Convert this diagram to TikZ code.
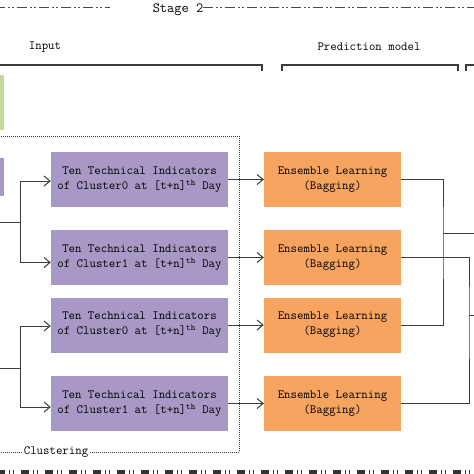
\documentclass[tikz,border=0pt]{standalone}
\usepackage{fontspec}
\usetikzlibrary{arrows.meta}
\definecolor{purp}{RGB}{168,152,198}
\definecolor{oran}{RGB}{246,164,96}
\definecolor{grn}{RGB}{197,216,155}
\definecolor{linegray}{RGB}{60,60,60}
\begin{document}
\begin{tikzpicture}[x=1pt,y=-1pt,
  txt/.style={font=\fontsize{12.5}{15}\selectfont\ttfamily, text=black},
  pbox/.style={txt, fill=purp, minimum width=177pt, minimum height=55pt, inner sep=0pt, align=center},
  obox/.style={txt, fill=oran, minimum width=137pt, minimum height=55pt, inner sep=0pt, align=center},
  conn/.style={draw=linegray, line width=1pt},
  arr/.style={conn, -{Straight Barb[length=6pt,width=10pt]}},
  brk/.style={draw=linegray, line width=1.2pt},
  stageline/.style={draw=black!70, line width=0.9pt, dash pattern=on 10pt off 3pt on 1.5pt off 2.5pt on 1.5pt off 3.5pt},
  botline/.style={draw=black!80, line width=3.5pt, dash pattern=on 8pt off 4pt on 1.2pt off 3pt on 1.2pt off 6.6pt},
  dotline/.style={draw=black!80, line width=1pt, dash pattern=on 1pt off 1pt}]

\useasboundingbox (0,0) rectangle (474,474);
\clip (0,0) rectangle (474,474);

% top stage line
\node[txt, font=\fontsize{14}{16}\selectfont\ttfamily, inner sep=0pt, anchor=base] (st) at (178,12) {Stage 2};
\coordinate (sl0) at (-5,7);
\coordinate (sl1) at (110,7);
\coordinate (sl2) at (480,7);
\draw[stageline] (sl0) -- (sl1);
\draw[stageline] (st.east |- sl2) -- (sl2);

% headings and brackets
\node[txt] (inp) at (45,47) {Input};
\node[txt] (pm) at (369,47) {Prediction model};
\draw[brk] (-5,65) -- (262,65) -- (262,71);
\draw[brk] (282,71) -- (282,65) -- (458,65) -- (458,71);
\draw[brk] (466,71) -- (466,65) -- (480,65);

% partial boxes at left edge
\node[fill=grn, minimum width=40pt, minimum height=55pt, inner sep=0pt, anchor=north east] (g) at (4,75) {};
\node[fill=purp, minimum width=40pt, minimum height=38pt, inner sep=0pt, anchor=north east] (pl) at (4,158) {};

% clustering frame
\node[txt, inner sep=2pt] (cl) at (56,452) {Clustering};
\coordinate (f0) at (-5,136);
\coordinate (f1) at (239,136);
\coordinate (f2) at (239,452);
\coordinate (f3) at (-5,452);
\draw[dotline] (f0) -- (f1) -- (f2) -- (cl.east);
\draw[dotline] (cl.west) -- (f3);

% purple boxes
\node[pbox] (p1) at (139.5,179.5) {Ten Technical Indicators\\ of Cluster0 at [t+n]\textsuperscript{th} Day};
\node[pbox] (p2) at (139.5,257.5) {Ten Technical Indicators\\ of Cluster1 at [t+n]\textsuperscript{th} Day};
\node[pbox] (p3) at (139.5,325) {Ten Technical Indicators\\ of Cluster0 at [t+n]\textsuperscript{th} Day};
\node[pbox] (p4) at (139.5,403.5) {Ten Technical Indicators\\ of Cluster1 at [t+n]\textsuperscript{th} Day};

% orange boxes
\node[obox] (o1) at (332.5,179.5) {Ensemble Learning\\(Bagging)};
\node[obox] (o2) at (332.5,257.5) {Ensemble Learning\\(Bagging)};
\node[obox] (o3) at (332.5,325) {Ensemble Learning\\(Bagging)};
\node[obox] (o4) at (332.5,403.5) {Ensemble Learning\\(Bagging)};

% left splits
\coordinate (in1) at (-5,222);
\coordinate (s1) at (20,222);
\coordinate (in2) at (-5,368);
\coordinate (s2) at (20,368);
\draw[conn] (in1) -- (s1);
\draw[arr] (s1) |- ([yshift=-1.5pt]p1.west);
\draw[arr] (s1) |- ([yshift=-5pt]p2.west);
\draw[conn] (in2) -- (s2);
\draw[arr] (s2) |- ([yshift=-1pt]p3.west);
\draw[arr] (s2) |- ([yshift=-3.5pt]p4.west);

% purple to orange
\draw[arr] (p1) -- (o1);
\draw[arr] (p2) -- (o2);
\draw[arr] (p3) -- (o3);
\draw[arr] (p4) -- (o4);

% right merges
\coordinate (j1) at (443,233);
\coordinate (out1) at (480,233);
\coordinate (j2) at (469,315);
\coordinate (out2) at (480,315);
\draw[conn] (o1.east) -| (j1) |- (o3.east);
\draw[conn] (j1) -- (out1);
\draw[conn] (o2.east) -| (j2) |- (o4.east);
\draw[conn] (j2) -- (out2);

% bottom line
\coordinate (b0) at (-3,472);
\coordinate (b1) at (480,472);
\draw[botline] (b0) -- (b1);
\end{tikzpicture}
\end{document}
